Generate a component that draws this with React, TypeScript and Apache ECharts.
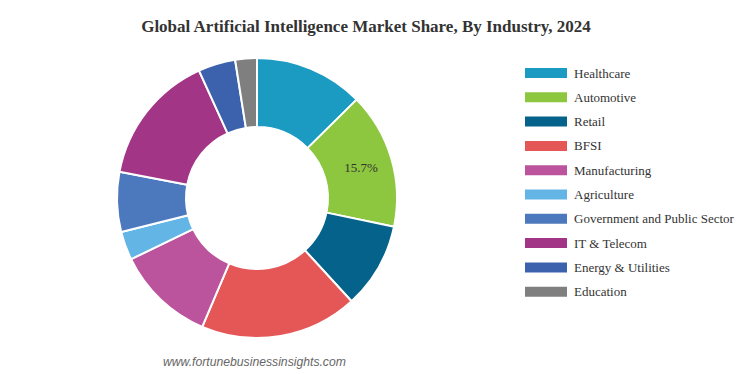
import React, { useEffect, useRef } from "react";
import * as echarts from "echarts";

const categories = [
  "Healthcare",
  "Automotive",
  "Retail",
  "BFSI",
  "Manufacturing",
  "Agriculture",
  "Government and Public Sector",
  "IT & Telecom",
  "Energy & Utilities",
  "Education",
];
const shares = [12.6, 15.7, 9.9, 18.2, 11.4, 3.3, 6.9, 15.2, 4.3, 2.5];
const colors = [
  "#1b9ac2",
  "#8dc63f",
  "#05628a",
  "#e45756",
  "#bc539d",
  "#63b5e5",
  "#4c78bd",
  "#a33586",
  "#3d62ad",
  "#7f7f7f",
];
const labelledCategory = "Automotive";

const SERIF = "'Liberation Serif', 'Times New Roman', serif";

export default function App() {
  const ref = useRef<HTMLDivElement>(null);
  useEffect(() => {
    document.body.style.margin = "0";
    const chart = echarts.init(ref.current!, undefined, { renderer: "svg" });
    chart.setOption({
      animation: false,
      color: colors,
      title: {
        text: "Global Artificial Intelligence Market Share, By Industry, 2024",
        left: 361,
        textAlign: "center",
        top: 13,
        textStyle: {
          fontFamily: SERIF,
          fontWeight: "bold",
          fontSize: 17,
          color: "#333",
        },
      },
      legend: {
        orient: "vertical",
        left: 518,
        top: 61,
        itemWidth: 44,
        itemHeight: 12,
        itemGap: 10.3,
        icon: "rect",
        data: categories,
        textStyle: {
          fontFamily: SERIF,
          fontSize: 13,
          color: "#333",
          padding: [0, 0, 0, 1],
        },
      },
      graphic: [
        {
          type: "text",
          left: 163,
          top: 356,
          style: {
            text: "www.fortunebusinessinsights.com",
            fontFamily: "'Liberation Sans', Arial, sans-serif",
            fontStyle: "italic",
            fontSize: 12.2,
            fill: "#666",
          },
        },
      ],
      series: [
        {
          type: "pie",
          center: [257, 198],
          radius: [71, 140],
          startAngle: 90,
          clockwise: true,
          itemStyle: { borderColor: "#fff", borderWidth: 2 },
          label: { show: false },
          labelLine: { show: false },
          emphasis: { disabled: true },
          data: categories.map((name, i) => ({
            name,
            value: shares[i],
            label:
              name === labelledCategory
                ? {
                    show: true,
                    position: "inside",
                    formatter: (p: any) => p.value.toFixed(1) + "%",
                    fontFamily: SERIF,
                    fontSize: 13,
                    color: "#333",
                  }
                : { show: false },
          })),
        },
      ],
    });
    return () => chart.dispose();
  }, []);
  return <div ref={ref} style={{ width: 748, height: 374 }} />;
}
